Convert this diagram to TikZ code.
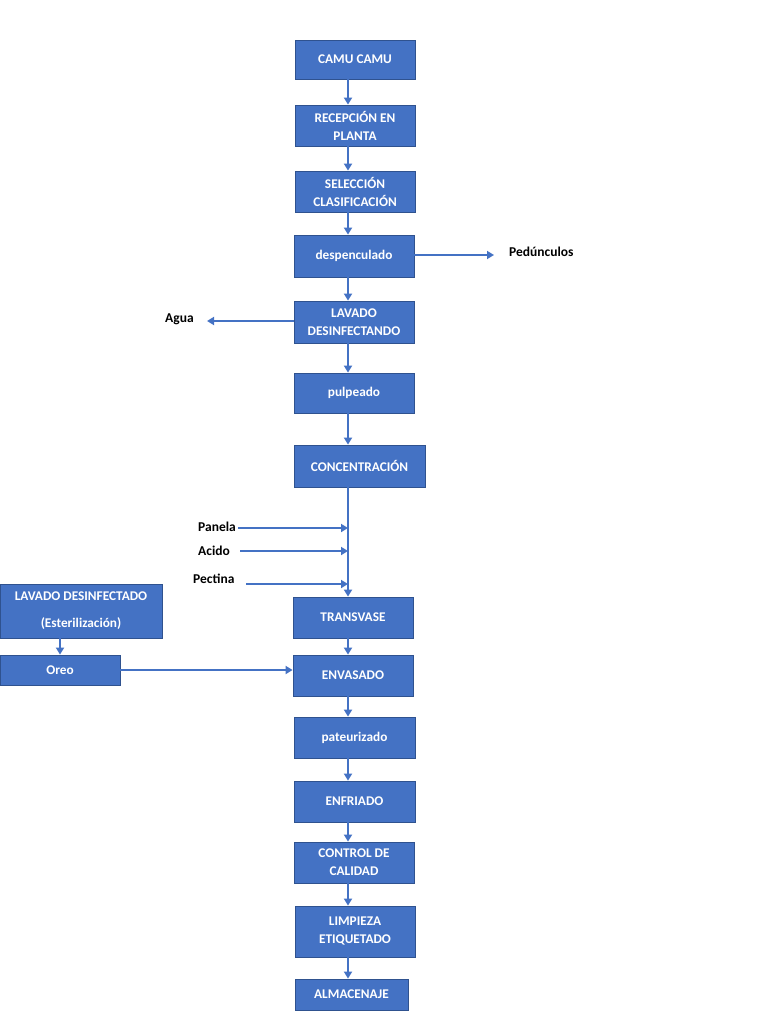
\documentclass[tikz,border=0pt]{standalone}
\usepackage{fontspec}
\setmainfont{Carlito}
\usetikzlibrary{arrows.meta}
\definecolor{boxfill}{HTML}{4472C4}
\definecolor{boxline}{HTML}{2F528F}
\begin{document}
\begin{tikzpicture}[x=1pt,y=-1pt,
  proc/.style={draw=boxline,fill=boxfill,line width=0.8pt,text=white,font=\bfseries\fontsize{13.3}{18}\selectfont,align=center,inner sep=0pt},
  lbl/.style={font=\bfseries\fontsize{13.5}{16}\selectfont,inner sep=0pt},
  flow/.style={draw=boxfill,line width=2.3pt,-{Triangle[length=7pt,width=8pt]}}]
\useasboundingbox (0,0) rectangle (768,1024);
% main column boxes
\node[proc,minimum width=120pt,minimum height=39pt] (camu) at (355,59.5) {CAMU CAMU};
\node[proc,minimum width=120pt,minimum height=41pt] (recep) at (355,125.5) {RECEPCIÓN EN\\PLANTA};
\node[proc,minimum width=120pt,minimum height=41pt] (selec) at (355,191.5) {SELECCIÓN\\CLASIFICACIÓN};
\node[proc,minimum width=120pt,minimum height=42pt] (desp) at (354,256) {despenculado};
\node[proc,minimum width=120pt,minimum height=42pt] (lavado) at (354,322) {LAVADO\\DESINFECTANDO};
\node[proc,minimum width=120pt,minimum height=40pt] (pulp) at (354,393) {pulpeado};
\node[proc,minimum width=131pt,minimum height=42pt] (conc) at (359.5,466) {CONCENTRACIÓN};
\node[proc,minimum width=120pt,minimum height=41pt] (trans) at (353,617.5) {TRANSVASE};
\node[proc,minimum width=120pt,minimum height=41pt] (envas) at (353,675.5) {ENVASADO};
\node[proc,minimum width=121pt,minimum height=41pt] (pate) at (354.5,737.5) {pateurizado};
\node[proc,minimum width=121pt,minimum height=41pt] (enfr) at (354.5,801.5) {ENFRIADO};
\node[proc,minimum width=120pt,minimum height=41pt] (ctrl) at (354,862.5) {CONTROL DE\\CALIDAD};
\node[proc,minimum width=120pt,minimum height=51pt] (limp) at (355,931.5) {LIMPIEZA\\ETIQUETADO};
\node[proc,minimum width=113pt,minimum height=31pt] (alm) at (351.5,994.5) {ALMACENAJE};
% left branch
\node[proc,minimum width=162pt,minimum height=54pt,font=\bfseries\fontsize{13.3}{27}\selectfont] (lavdes) at (81,611) {LAVADO DESINFECTADO\\(Esterilización)};
\node[proc,minimum width=120pt,minimum height=30pt] (oreo) at (60,670) {Oreo};
% labels
\node[lbl,anchor=west] (ped) at (509,252) {Pedúnculos};
\node[lbl,anchor=west] (agua) at (165,319) {Agua};
\node[lbl,anchor=west] (panela) at (198,527) {Panela};
\node[lbl,anchor=west] (acido) at (198,551) {Acido};
\node[lbl,anchor=west] (pectina) at (193,579) {Pectina};
% coordinates
\coordinate (pedend) at (494,255);
\coordinate (aguaend) at (207,321);
\coordinate (jpan) at (348,528);
\coordinate (jaci) at (348,551);
\coordinate (jpec) at (348,584);
\coordinate (panst) at (238,528);
\coordinate (acist) at (240,551);
\coordinate (pecst) at (246,584);
% connectors
\draw[flow] (camu.south -| 348,0) -- (recep.north -| 348,0);
\draw[flow] (recep.south -| 348,0) -- (selec.north -| 348,0);
\draw[flow] (selec.south -| 348,0) -- (desp.north -| 348,0);
\draw[flow] (desp.south -| 348,0) -- (lavado.north -| 348,0);
\draw[flow] (lavado.south -| 348,0) -- (pulp.north -| 348,0);
\draw[flow] (pulp.south -| 348,0) -- (conc.north -| 348,0);
\draw[flow] (conc.south -| 348,0) -- (trans.north -| 348,0);
\draw[flow] (trans.south -| 348,0) -- (envas.north -| 348,0);
\draw[flow] (envas.south -| 348,0) -- (pate.north -| 348,0);
\draw[flow] (pate.south -| 348,0) -- (enfr.north -| 348,0);
\draw[flow] (enfr.south -| 348,0) -- (ctrl.north -| 348,0);
\draw[flow] (ctrl.south -| 348,0) -- (limp.north -| 348,0);
\draw[flow] (limp.south -| 348,0) -- (alm.north -| 348,0);
\draw[flow] (desp.east |- pedend) -- (pedend);
\draw[flow] (lavado.west |- aguaend) -- (aguaend);
\draw[flow] (panst) -- (jpan);
\draw[flow] (acist) -- (jaci);
\draw[flow] (pecst) -- (jpec);
\draw[flow] (lavdes.south -| oreo.north) -- (oreo.north);
\draw[flow] (oreo.east) -- (envas.west |- oreo.east);
\end{tikzpicture}
\end{document}
